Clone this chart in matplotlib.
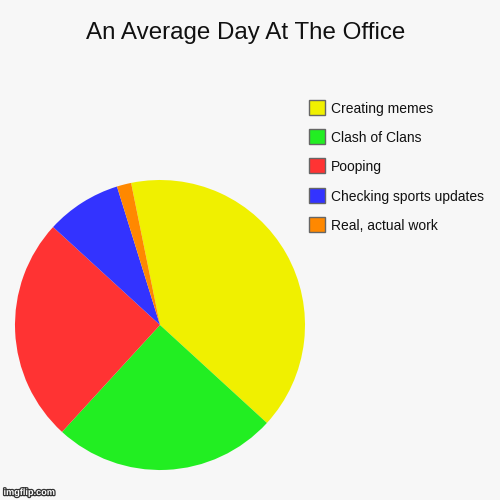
import matplotlib.pyplot as plt
import matplotlib.patheffects as pe
from matplotlib.patches import Rectangle

plt.rcParams["font.family"] = ["Liberation Sans", "DejaVu Sans"]

TITLE = "An Average Day At The Office"
LABELS = ["Creating memes", "Clash of Clans", "Pooping",
          "Checking sports updates", "Real, actual work"]
VALUES = [40, 25, 25, 8.4, 1.6]
COLORS = ["#f0f000", "#22ee22", "#ff3333", "#3333ff", "#ff8800"]

BG = "#f7f7f7"

fig = plt.figure(figsize=(5, 5), dpi=100, facecolor=BG)

# pie area: center (160, 325) px, radius 145 px
ax = fig.add_axes([0.03, 0.06, 0.58, 0.58])
ax.set_facecolor(BG)
ax.pie(VALUES, colors=COLORS, startangle=101.5, counterclock=False,
       radius=1, wedgeprops={"linewidth": 0})
ax.set_xlim(-1, 1)
ax.set_ylim(-1, 1)
ax.set_aspect("equal")
ax.axis("off")

fig.text(0.492, 0.921, TITLE, ha="center", va="baseline", fontsize=17.4,
         color="#111111")

# legend, drawn by hand to match the layout
x0, y0, step = 309 / 500, 1 - 107.5 / 500, 29.2 / 500
box = 15 / 500
for i, (lab, col) in enumerate(zip(LABELS, COLORS)):
    yc = y0 - i * step
    fig.patches.append(Rectangle((x0, yc - box / 2), box * 1.07, box,
                                 transform=fig.transFigure, facecolor=col,
                                 edgecolor="#666666", linewidth=1))
    fig.text(331 / 500, yc - 1.5 / 500, lab, ha="left", va="center",
             fontsize=10.0, color="#111111")

fig.text(0.007, 0.006, "imgflip.com", ha="left", va="bottom", fontsize=6.6,
         color="white", fontweight="bold",
         path_effects=[pe.withStroke(linewidth=1.8, foreground="#333333")])

fig.savefig("out.png", dpi=100, facecolor=BG)
